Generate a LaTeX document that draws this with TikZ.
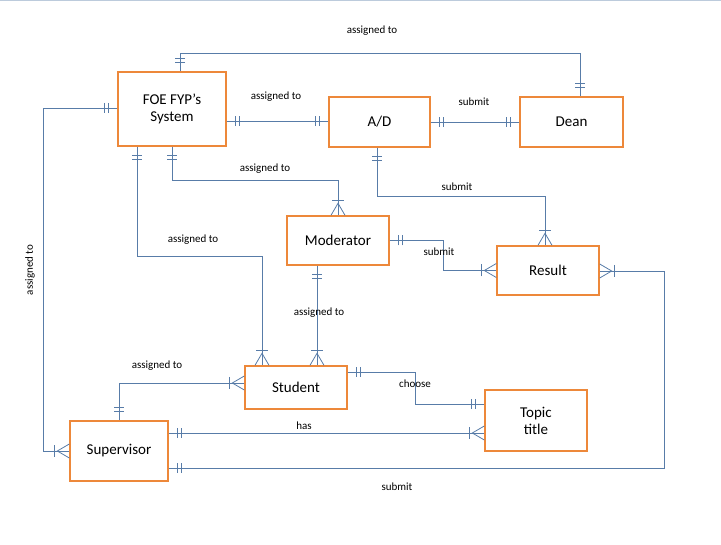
\documentclass[tikz,border=0pt]{standalone}
\usepackage{fontspec}
\setmainfont{Carlito}
\usetikzlibrary{decorations.markings}
\definecolor{obox}{RGB}{237,136,58}
\definecolor{lcon}{RGB}{88,124,168}
\begin{document}
\begin{tikzpicture}[x=1pt,y=-1pt,
  box/.style={draw=obox,line width=1.4pt,fill=white,align=center,font=\fontsize{15}{17}\selectfont,inner sep=0pt},
  con/.style={draw=lcon,line width=0.8pt},
  lab/.style={font=\fontsize{11}{12}\selectfont,inner sep=1pt},
  bs/.style={postaction={decorate,decoration={markings,
    mark=at position 9pt with {\draw[con] (0,-5pt)--(0,5pt);},
    mark=at position 13pt with {\draw[con] (0,-5pt)--(0,5pt);}}}},
  be/.style={postaction={decorate,decoration={markings,
    mark=at position -9pt with {\draw[con] (0,-5pt)--(0,5pt);},
    mark=at position -13pt with {\draw[con] (0,-5pt)--(0,5pt);}}}},
  ce/.style={postaction={decorate,decoration={markings,
    mark=at position 1 with {\draw[con] (0,-7pt)--(-12pt,0)--(0,7pt); \draw[con] (-15pt,-6pt)--(-15pt,6pt);}}}},
  cs/.style={postaction={decorate,decoration={markings,
    mark=at position 0 with {\draw[con] (0,-7pt)--(12pt,0)--(0,7pt); \draw[con] (15pt,-6pt)--(15pt,6pt);}}}}]
\useasboundingbox (0,0) rectangle (721,545);
\draw[lcon!40,line width=0.6pt] (0,0.5)--(721,0.5);
\node[box,minimum width=108,minimum height=74] (foe) at (172,109) {FOE FYP’s\\System};
\node[box,minimum width=101,minimum height=50] (ad) at (379.5,122) {A/D};
\node[box,minimum width=103,minimum height=50] (dean) at (571.5,122) {Dean};
\node[box,minimum width=102,minimum height=49] (mod) at (338,240.5) {Moderator};
\node[box,minimum width=102,minimum height=49] (res) at (548,270.5) {Result};
\node[box,minimum width=102,minimum height=43] (stu) at (296,387.5) {Student};
\node[box,minimum width=102,minimum height=61] (topic) at (536,420.5) {Topic\\title};
\node[box,minimum width=98,minimum height=60] (sup) at (119,451) {Supervisor};
\draw[con,bs,be] (foe.north -| 180,0) |- (580,53) -- (dean.north -| 580,0);
\draw[con,bs,be] (foe.east |- 0,121) -- (ad.west |- 0,121);
\draw[con,bs,be] (ad.east) -- (dean.west);
\draw[con,bs,ce] (ad.south -| 377,0) |- (545,196) -- (res.north -| 545,0);
\draw[con,bs,ce] (foe.south -| 172,0) |- (338,180) -- (mod.north);
\draw[con,bs,ce] (foe.south -| 137,0) |- (262,256) -- (stu.north -| 262,0);
\draw[con,bs,ce] (mod.east) -- (443,240.5) |- (res.west);
\draw[con,bs,ce] (mod.south -| 317,0) -- (stu.north -| 317,0);
\draw[con,cs,be] (stu.west |- 0,383) -| (sup.north -| 119,0);
\draw[con,bs,be] (stu.east |- 0,372) -| (415,404) -- (topic.west |- 0,404);
\draw[con,bs,ce] (sup.east |- 0,433) -- (topic.west |- 0,433);
\draw[con,bs,ce] (sup.east |- 0,468) -| (664,271) -- (res.east |- 0,271);
\draw[con,bs,ce] (foe.west |- 0,108) -| (43,451) -- (sup.west);
\node[lab] (l1) at (372,31) {assigned to};
\node[lab] (l2) at (276,97) {assigned to};
\node[lab] (l3) at (474,102) {submit};
\node[lab] (l4) at (457,187) {submit};
\node[lab] (l5) at (265,169) {assigned to};
\node[lab] (l6) at (193,240) {assigned to};
\node[lab] (l7) at (439,252) {submit};
\node[lab] (l8) at (319,313) {assigned to};
\node[lab] (l9) at (157,366) {assigned to};
\node[lab] (l10) at (415,384) {choose};
\node[lab] (l11) at (304,426) {has};
\node[lab] (l12) at (397,487) {submit};
\node[lab,rotate=90] (l13) at (30,270) {assigned to};
\end{tikzpicture}
\end{document}
